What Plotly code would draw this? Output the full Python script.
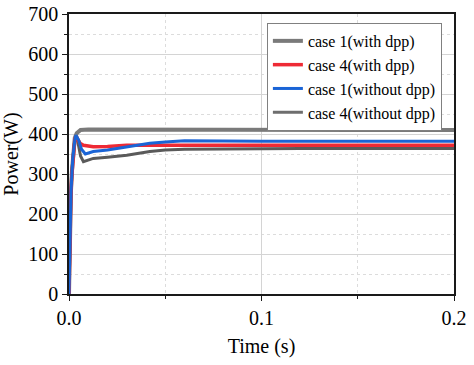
import plotly.graph_objects as go

# --- data ---
t_case1_dpp = [0, 0.0005, 0.001, 0.0015, 0.002, 0.003, 0.004, 0.005, 0.006, 0.01, 0.05, 0.1, 0.15, 0.2]
p_case1_dpp = [0, 160, 255, 305, 345, 390, 402, 408, 410, 411, 410, 411, 410, 410]

t_case4_dpp = [0, 0.0005, 0.001, 0.0015, 0.002, 0.003, 0.0036, 0.0045, 0.0057, 0.0075, 0.0126, 0.02, 0.03, 0.06, 0.1, 0.15, 0.2]
p_case4_dpp = [0, 150, 250, 300, 340, 385, 395, 386, 377, 372, 368, 369, 372, 372, 372, 372, 372]

t_case1_nodpp = [0, 0.0005, 0.001, 0.0015, 0.002, 0.003, 0.0036, 0.005, 0.0065, 0.0085, 0.0105, 0.0126, 0.02, 0.03, 0.042, 0.05, 0.06, 0.1, 0.15, 0.2]
p_case1_nodpp = [0, 150, 250, 300, 340, 385, 397, 385, 362, 350, 352, 356, 360, 368, 377, 380, 383, 382, 382, 382]

t_case4_nodpp = [0, 0.0005, 0.001, 0.0015, 0.002, 0.003, 0.004, 0.005, 0.006, 0.0075, 0.009, 0.0126, 0.02, 0.03, 0.042, 0.05, 0.06, 0.08, 0.12, 0.2]
p_case4_nodpp = [0, 150, 250, 300, 340, 385, 395, 370, 345, 331, 333, 339, 342, 347, 356, 360, 362, 363, 364, 364]

series_names = ["case 1(with dpp)", "case 4(with dpp)", "case 1(without dpp)", "case 4(without dpp)"]
x_tick_vals = [0.0, 0.1, 0.2]
x_tick_text = ["0.0", "0.1", "0.2"]
y_tick_vals = [0, 100, 200, 300, 400, 500, 600, 700]
y_tick_text = ["0", "100", "200", "300", "400", "500", "600", "700"]

FONT = "Liberation Serif, Times New Roman, serif"

fig = go.Figure()
fig.add_trace(go.Scatter(x=t_case1_dpp, y=p_case1_dpp, mode="lines", name=series_names[0],
                         line=dict(color="#7a7a7a", width=4)))
fig.add_trace(go.Scatter(x=t_case4_nodpp, y=p_case4_nodpp, mode="lines", name=series_names[3],
                         line=dict(color="#5a5a5a", width=3), showlegend=False))
fig.add_trace(go.Scatter(x=t_case4_dpp, y=p_case4_dpp, mode="lines", name=series_names[1],
                         line=dict(color="#ee2a35", width=3.5)))
fig.add_trace(go.Scatter(x=t_case1_nodpp, y=p_case1_nodpp, mode="lines", name=series_names[2],
                         line=dict(color="#1a64d6", width=3)))
# legend entry for case 4 (without dpp) so it appears last in the legend
fig.add_trace(go.Scatter(x=[None], y=[None], mode="lines", name=series_names[3],
                         line=dict(color="#6e6e6e", width=3)))

axis_common = dict(
    showline=True, linecolor="#1a1a1a", linewidth=1.5, mirror=True,
    ticks="outside", ticklen=5, tickwidth=1, tickcolor="#1a1a1a",
    showgrid=True, gridcolor="#d4d4d4", gridwidth=1,
    zeroline=False, automargin=False,
    tickfont=dict(family=FONT, size=20, color="black"),
)

fig.update_xaxes(
    **axis_common,
    range=[0, 0.2], tickmode="array", tickvals=x_tick_vals, ticktext=x_tick_text,
    minor=dict(dtick=0.05, tick0=0, ticks="outside", ticklen=3, tickcolor="#1a1a1a",
               showgrid=True, gridcolor="#dcdcdc", griddash="dot"),
    title=dict(text="Time (s)", font=dict(family=FONT, size=20, color="black"), standoff=11),
)
fig.update_yaxes(
    **axis_common,
    range=[0, 700], tickmode="array", tickvals=y_tick_vals, ticktext=y_tick_text,
    minor=dict(dtick=50, tick0=0, ticks="outside", ticklen=3, tickcolor="#1a1a1a",
               showgrid=True, gridcolor="#dcdcdc", griddash="dot"),
    title=dict(text="Power(W)", font=dict(family=FONT, size=20, color="black"), standoff=6),
)

fig.update_layout(
    width=474, height=365,
    font=dict(family=FONT, size=20, color="black"),
    margin=dict(l=69, r=20, t=14, b=71, autoexpand=False),
    paper_bgcolor="white", plot_bgcolor="white",
    showlegend=True,
    legend=dict(
        x=0.514, y=0.968, xanchor="left", yanchor="top",
        bgcolor="white", bordercolor="#808080", borderwidth=1,
        font=dict(family=FONT, size=16, color="black"),
        tracegroupgap=0,
    ),
)

fig.write_html(
    "out.html",
    config={"displayModeBar": False},
    post_script="document.body.style.margin='0';document.body.style.padding='0';document.body.style.overflow='hidden';",
)
